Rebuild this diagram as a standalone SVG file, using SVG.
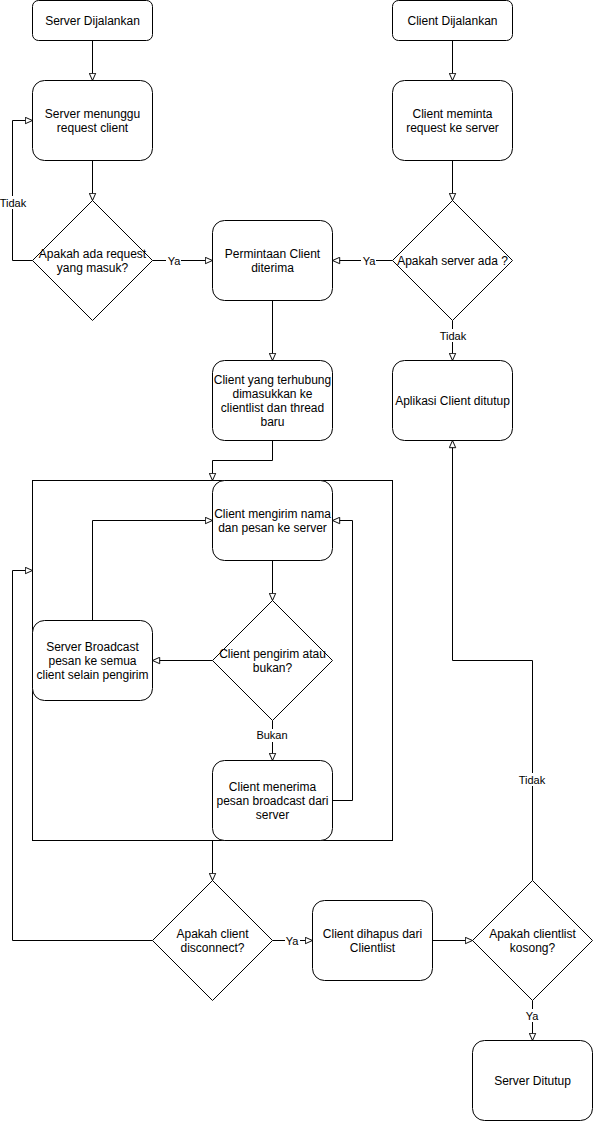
<svg xmlns="http://www.w3.org/2000/svg" width="593" height="1121" viewBox="0 0 593 1121">
<style>
.n{fill:#fff;stroke:#000;stroke-width:1}
.c{fill:none;stroke:#000;stroke-width:1}
.t{font-family:"Liberation Sans",Arial,sans-serif;font-size:12px;fill:#000;text-anchor:middle}
.l{font-family:"Liberation Sans",Arial,sans-serif;font-size:11px;fill:#000;text-anchor:middle}
.bg{fill:#fff;stroke:none}
</style>
<defs>
<marker id="a" viewBox="0 0 10 10" refX="10" refY="5" markerWidth="8" markerHeight="8" markerUnits="userSpaceOnUse" orient="auto">
<path d="M1,1 L10,5 L1,9 Z" fill="#fff" stroke="#000" stroke-width="1.2"/>
</marker>
</defs>
<rect width="593" height="1121" fill="#fff"/>
<g id="container"><rect class="n" x="32.5" y="480.5" width="360" height="360" fill="none"/></g>
<g id="connectors">
<path class="c" d="M92.5,40.5 V80.5" marker-end="url(#a)"/>
<path class="c" d="M92.5,160.5 V200.5" marker-end="url(#a)"/>
<path class="c" d="M32.5,260.5 H12.5 V120.5 H32.5" marker-end="url(#a)"/>
<path class="c" d="M152.5,260.5 H212.5" marker-end="url(#a)"/>
<path class="c" d="M452.5,40.5 V80.5" marker-end="url(#a)"/>
<path class="c" d="M452.5,160.5 V200.5" marker-end="url(#a)"/>
<path class="c" d="M392.5,260.5 H332.5" marker-end="url(#a)"/>
<path class="c" d="M452.5,320.5 V360.5" marker-end="url(#a)"/>
<path class="c" d="M272.5,300.5 V360.5" marker-end="url(#a)"/>
<path class="c" d="M272.5,440.5 V460.5 H212.5 V480.5" marker-end="url(#a)"/>
<path class="c" d="M272.5,560.5 V600.5" marker-end="url(#a)"/>
<path class="c" d="M212.5,660.5 H152.5" marker-end="url(#a)"/>
<path class="c" d="M272.5,720.5 V760.5" marker-end="url(#a)"/>
<path class="c" d="M92.5,620.5 V520.5 H212.5" marker-end="url(#a)"/>
<path class="c" d="M332.5,800.5 H352.5 V520.5 H332.5" marker-end="url(#a)"/>
<path class="c" d="M212.5,840.5 V880.5" marker-end="url(#a)"/>
<path class="c" d="M152.5,940.5 H12.5 V570.5 H32.5" marker-end="url(#a)"/>
<path class="c" d="M272.5,940.5 H312.5" marker-end="url(#a)"/>
<path class="c" d="M432.5,940.5 H472.5" marker-end="url(#a)"/>
<path class="c" d="M532.5,880.5 V660.5 H452.5 V440.5" marker-end="url(#a)"/>
<path class="c" d="M532.5,1000.5 V1040.5" marker-end="url(#a)"/>
<rect class="bg" x="0" y="196" width="27" height="13"/><text class="l" x="13" y="207">Tidak</text>
<rect class="bg" x="166" y="254" width="15" height="13"/><text class="l" x="174" y="265">Ya</text>
<rect class="bg" x="361" y="254" width="15" height="13"/><text class="l" x="369" y="265">Ya</text>
<rect class="bg" x="439" y="329" width="27" height="13"/><text class="l" x="453" y="340">Tidak</text>
<rect class="bg" x="256" y="729" width="32" height="13"/><text class="l" x="272" y="739">Bukan</text>
<rect class="bg" x="285" y="934" width="15" height="13"/><text class="l" x="292" y="945">Ya</text>
<rect class="bg" x="518" y="773" width="28" height="13"/><text class="l" x="532" y="784">Tidak</text>
<rect class="bg" x="525" y="1009" width="15" height="13"/><text class="l" x="532" y="1020">Ya</text>
</g>
<g id="server-dijalankan"><rect class="n" x="32.5" y="0.5" width="120" height="40" rx="6"/><text class="t" x="92.5" y="25">Server Dijalankan</text></g>
<g id="client-dijalankan"><rect class="n" x="392.5" y="0.5" width="120" height="40" rx="6"/><text class="t" x="452.5" y="25">Client Dijalankan</text></g>
<g id="server-menunggu"><rect class="n" x="32.5" y="80.5" width="120" height="80" rx="12"/><text class="t" x="92.5" y="118">Server menunggu</text><text class="t" x="92.5" y="132">request client</text></g>
<g id="client-meminta"><rect class="n" x="392.5" y="80.5" width="120" height="80" rx="12"/><text class="t" x="452.5" y="118">Client meminta</text><text class="t" x="452.5" y="132">request ke server</text></g>
<g id="ada-request"><path class="n" d="M92.5,200.5 L152.5,260.5 L92.5,320.5 L32.5,260.5 Z"/><text class="t" x="92.5" y="258">Apakah ada request</text><text class="t" x="92.5" y="272">yang masuk?</text></g>
<g id="permintaan"><rect class="n" x="212.5" y="220.5" width="120" height="80" rx="12"/><text class="t" x="272.5" y="258">Permintaan Client</text><text class="t" x="272.5" y="272">diterima</text></g>
<g id="server-ada"><path class="n" d="M452.5,200.5 L512.5,260.5 L452.5,320.5 L392.5,260.5 Z"/><text class="t" x="452.5" y="265">Apakah server ada ?</text></g>
<g id="client-terhubung"><rect class="n" x="212.5" y="360.5" width="120" height="80" rx="12"/><text class="t" x="272.5" y="384">Client yang terhubung</text><text class="t" x="272.5" y="398">dimasukkan ke</text><text class="t" x="272.5" y="412">clientlist dan thread</text><text class="t" x="272.5" y="426">baru</text></g>
<g id="aplikasi-ditutup"><rect class="n" x="392.5" y="360.5" width="120" height="80" rx="12"/><text class="t" x="452.5" y="405">Aplikasi Client ditutup</text></g>
<g id="client-mengirim"><rect class="n" x="212.5" y="480.5" width="120" height="80" rx="12"/><text class="t" x="272.5" y="518">Client mengirim nama</text><text class="t" x="272.5" y="532">dan pesan ke server</text></g>
<g id="pengirim"><path class="n" d="M272.5,600.5 L332.5,660.5 L272.5,720.5 L212.5,660.5 Z"/><text class="t" x="272.5" y="658">Client pengirim atau</text><text class="t" x="272.5" y="672">bukan?</text></g>
<g id="broadcast"><rect class="n" x="32.5" y="620.5" width="120" height="80" rx="12"/><text class="t" x="92.5" y="651">Server Broadcast</text><text class="t" x="92.5" y="665">pesan ke semua</text><text class="t" x="92.5" y="679">client selain pengirim</text></g>
<g id="client-menerima"><rect class="n" x="212.5" y="760.5" width="120" height="80" rx="12"/><text class="t" x="272.5" y="791">Client menerima</text><text class="t" x="272.5" y="805">pesan broadcast dari</text><text class="t" x="272.5" y="819">server</text></g>
<g id="disconnect"><path class="n" d="M212.5,880.5 L272.5,940.5 L212.5,1000.5 L152.5,940.5 Z"/><text class="t" x="212.5" y="938">Apakah client</text><text class="t" x="212.5" y="952">disconnect?</text></g>
<g id="dihapus"><rect class="n" x="312.5" y="900.5" width="120" height="80" rx="12"/><text class="t" x="372.5" y="938">Client dihapus dari</text><text class="t" x="372.5" y="952">Clientlist</text></g>
<g id="kosong"><path class="n" d="M532.5,880.5 L592.5,940.5 L532.5,1000.5 L472.5,940.5 Z"/><text class="t" x="532.5" y="938">Apakah clientlist</text><text class="t" x="532.5" y="952">kosong?</text></g>
<g id="server-ditutup"><rect class="n" x="472.5" y="1040.5" width="120" height="80" rx="12"/><text class="t" x="532.5" y="1085">Server Ditutup</text></g>
</svg>
